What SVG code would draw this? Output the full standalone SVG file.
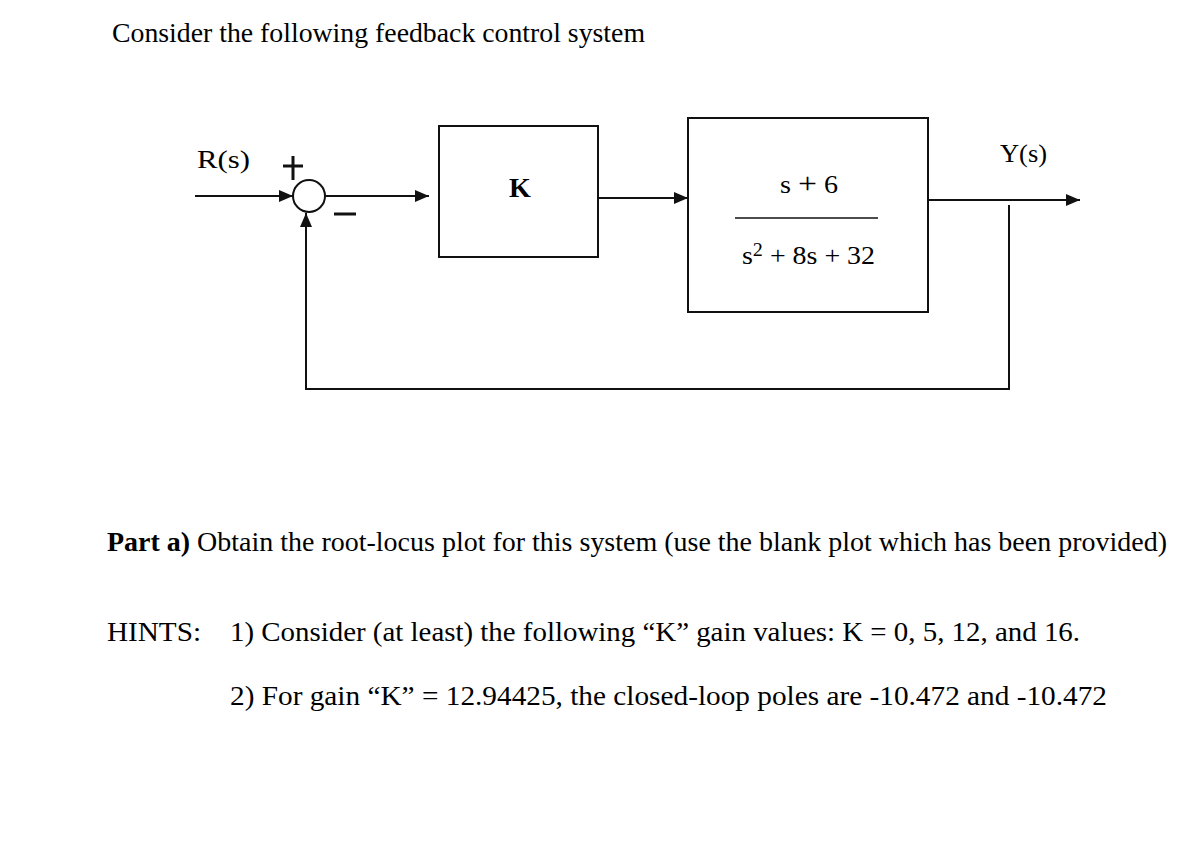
<svg xmlns="http://www.w3.org/2000/svg" width="1203" height="843" viewBox="0 0 1203 843">
<style>
text{font-family:"Liberation Serif","Times New Roman",serif;fill:#000}
.t{font-size:28px}
.d{font-size:25px}
.box{fill:#fff;stroke:#111;stroke-width:2}
.ln{fill:none;stroke:#111;stroke-width:2}
</style>
<defs>
<marker id="a2" viewBox="0 0 14 12" refX="14" refY="6" markerWidth="14" markerHeight="12" markerUnits="userSpaceOnUse" orient="auto">
<path d="M0,0 L14,6 L0,12 z" fill="#111"/>
</marker>
</defs>
<rect width="1203" height="843" fill="#fff"/>
<text class="t" x="112" y="42" textLength="533" lengthAdjust="spacingAndGlyphs">Consider the following feedback control system</text>

<g id="connectors">
<line class="ln" x1="195" y1="196" x2="293" y2="196" marker-end="url(#a2)"/>
<line class="ln" x1="325" y1="196" x2="429" y2="196" marker-end="url(#a2)"/>
<line class="ln" x1="598" y1="198" x2="688" y2="198" marker-end="url(#a2)"/>
<line class="ln" x1="928" y1="200" x2="1080" y2="200" marker-end="url(#a2)"/>
<polyline class="ln" points="1009,205 1009,389 306,389 306,213" marker-end="url(#a2)"/>
</g>

<g id="sum">
<circle cx="309" cy="196" r="16" fill="#fff" stroke="#111" stroke-width="2"/>
<line x1="283" y1="166" x2="303" y2="166" stroke="#111" stroke-width="3"/>
<line x1="293" y1="156" x2="293" y2="180" stroke="#111" stroke-width="3"/>
<line x1="334" y1="214" x2="356" y2="214" stroke="#111" stroke-width="3"/>
</g>

<g id="R"><text class="d" x="197" y="168" textLength="53" lengthAdjust="spacingAndGlyphs">R(s)</text></g>
<g id="Y"><text class="d" x="1000" y="162" textLength="47" lengthAdjust="spacingAndGlyphs">Y(s)</text></g>

<g id="K">
<rect class="box" x="439" y="126" width="159" height="131"/>
<text x="520" y="197" text-anchor="middle" style="font-size:28px;font-weight:bold">K</text>
</g>

<g id="G">
<rect class="box" x="688" y="118" width="240" height="194"/>
<text class="d" x="780" y="193" textLength="58" lengthAdjust="spacingAndGlyphs">s <tspan style="font-size:30px">+</tspan> 6</text>
<line x1="735" y1="218" x2="878" y2="218" stroke="#111" stroke-width="1.5"/>
<text class="d" x="742" y="264" textLength="133" lengthAdjust="spacingAndGlyphs">s<tspan dy="-8" style="font-size:18px">2</tspan><tspan dy="8"> + 8s + 32</tspan></text>
</g>

<text class="t" x="107" y="551" textLength="1060" lengthAdjust="spacingAndGlyphs"><tspan font-weight="bold">Part a)</tspan> Obtain the root-locus plot for this system (use the blank plot which has been provided)</text>
<text class="t" x="107" y="641" textLength="94" lengthAdjust="spacingAndGlyphs">HINTS:</text>
<text class="t" x="230" y="641" textLength="850" lengthAdjust="spacingAndGlyphs">1)  Consider (at least) the following “K” gain values:  K = 0, 5, 12, and 16.</text>
<text class="t" x="230" y="705" textLength="877" lengthAdjust="spacingAndGlyphs">2)  For gain “K” = 12.94425, the closed-loop poles are   -10.472 and  -10.472</text>
</svg>
